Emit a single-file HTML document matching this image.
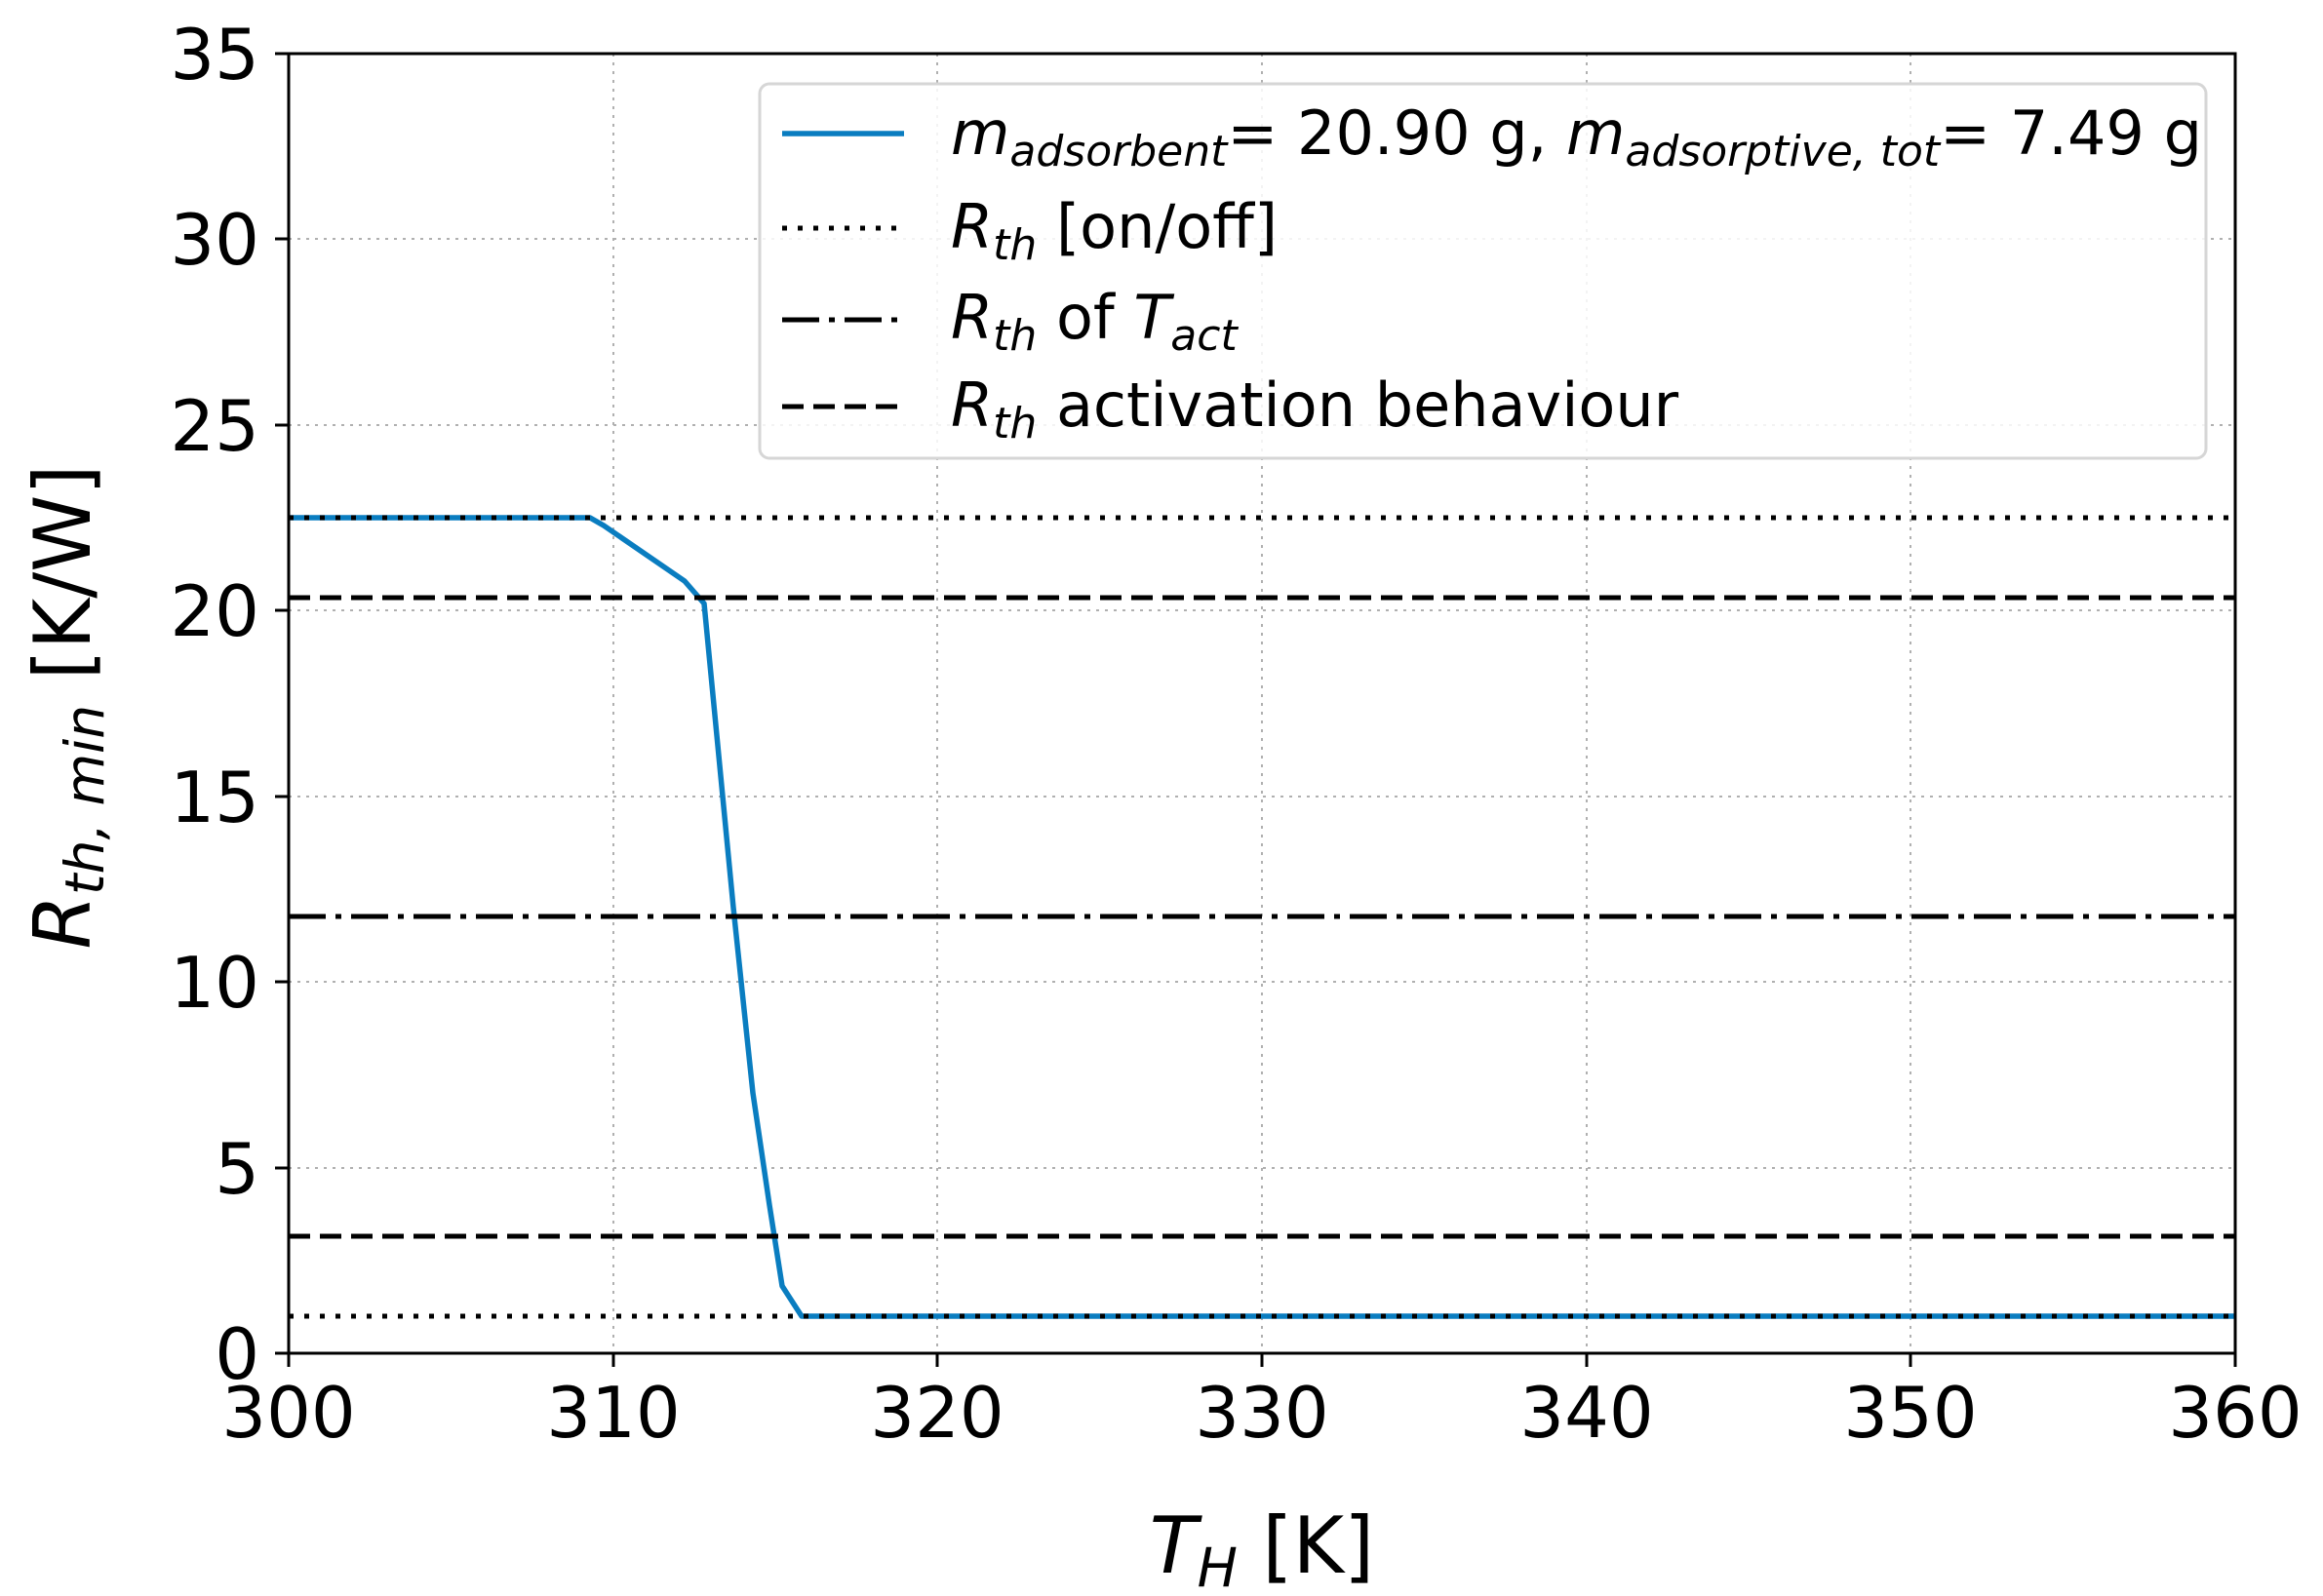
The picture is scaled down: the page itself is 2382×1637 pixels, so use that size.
<!DOCTYPE html>
<html><head><meta charset="utf-8"><style>
html,body{margin:0;padding:0;background:#fff;}
svg{display:block;font-family:"DejaVu Sans","Liberation Sans",sans-serif;}
</style></head><body>
<svg width="2382" height="1637" viewBox="0 0 2382 1637" xmlns="http://www.w3.org/2000/svg">
<rect width="2382" height="1637" fill="#fff"/>
<g stroke="#b0b0b0" stroke-width="2" stroke-dasharray="3,6">
<line x1="629" y1="55" x2="629" y2="1388"/><line x1="961" y1="55" x2="961" y2="1388"/>
<line x1="1294" y1="55" x2="1294" y2="1388"/><line x1="1627" y1="55" x2="1627" y2="1388"/>
<line x1="1959" y1="55" x2="1959" y2="1388"/>
<line x1="296" y1="1198" x2="2292" y2="1198"/><line x1="296" y1="1007" x2="2292" y2="1007"/>
<line x1="296" y1="817" x2="2292" y2="817"/><line x1="296" y1="626" x2="2292" y2="626"/>
<line x1="296" y1="436" x2="2292" y2="436"/><line x1="296" y1="245" x2="2292" y2="245"/>
</g>
<polyline fill="none" stroke="#0a7dc0" stroke-width="5.5" stroke-linejoin="round" points="296,531 605,531 619,539 702,596 722,619 752,931 772,1121 789,1236 802,1319 822,1350 2292,1350"/>
<g fill="none" stroke="#000" stroke-width="5">
<line x1="296" y1="531" x2="2292" y2="531" stroke-dasharray="5,11"/>
<line x1="296" y1="1350" x2="2292" y2="1350" stroke-dasharray="5,11"/>
<line x1="296" y1="613" x2="2292" y2="613" stroke-dasharray="22,10"/>
<line x1="296" y1="1268" x2="2292" y2="1268" stroke-dasharray="22,10"/>
<line x1="296" y1="940" x2="2292" y2="940" stroke-dasharray="38,10,6,10"/>
</g>
<rect x="296" y="55" width="1996" height="1333" fill="none" stroke="#000" stroke-width="3"/>
<g stroke="#000" stroke-width="3">
<line x1="282" y1="1388" x2="296" y2="1388"/><line x1="282" y1="1198" x2="296" y2="1198"/>
<line x1="282" y1="1007" x2="296" y2="1007"/><line x1="282" y1="817" x2="296" y2="817"/>
<line x1="282" y1="626" x2="296" y2="626"/><line x1="282" y1="436" x2="296" y2="436"/>
<line x1="282" y1="245" x2="296" y2="245"/><line x1="282" y1="55" x2="296" y2="55"/>
<line x1="296" y1="1388" x2="296" y2="1402"/><line x1="629" y1="1388" x2="629" y2="1402"/>
<line x1="961" y1="1388" x2="961" y2="1402"/><line x1="1294" y1="1388" x2="1294" y2="1402"/>
<line x1="1627" y1="1388" x2="1627" y2="1402"/><line x1="1959" y1="1388" x2="1959" y2="1402"/>
<line x1="2292" y1="1388" x2="2292" y2="1402"/>
</g>
<g font-size="72" fill="#000" text-anchor="end">
<text x="266" y="1414">0</text><text x="266" y="1224">5</text><text x="266" y="1033">10</text>
<text x="266" y="843">15</text><text x="266" y="652">20</text><text x="266" y="462">25</text>
<text x="266" y="271">30</text><text x="266" y="81">35</text>
</g>
<g font-size="72" fill="#000" text-anchor="middle">
<text x="296" y="1474">300</text><text x="629" y="1474">310</text><text x="961" y="1474">320</text>
<text x="1294" y="1474">330</text><text x="1627" y="1474">340</text><text x="1959" y="1474">350</text>
<text x="2292" y="1474">360</text>
</g>
<text x="1294" y="1613" font-size="80" text-anchor="middle"><tspan font-style="italic">T</tspan><tspan font-style="italic" font-size="55" dy="14">H</tspan><tspan dy="-14"> [K]</tspan></text>
<text transform="translate(92,725) rotate(-90)" font-size="80" text-anchor="middle"><tspan font-style="italic">R</tspan><tspan font-style="italic" font-size="55" dy="14">th, min</tspan><tspan dy="-14"> [K/W]</tspan></text>
<rect x="779" y="86" width="1483" height="384" rx="10" fill="#fff" fill-opacity="0.85" stroke="#d6d6d6" stroke-width="3"/>
<line x1="802" y1="137" x2="927" y2="137" stroke="#0a7dc0" stroke-width="5.5"/>
<line x1="802" y1="234" x2="927" y2="234" stroke="#000" stroke-width="5" stroke-dasharray="5,11"/>
<line x1="802" y1="328" x2="927" y2="328" stroke="#000" stroke-width="5" stroke-dasharray="38,10,6,10"/>
<line x1="802" y1="417" x2="927" y2="417" stroke="#000" stroke-width="5" stroke-dasharray="22,10"/>
<g font-size="62" fill="#000">
<text x="975" y="158"><tspan font-style="italic">m</tspan><tspan font-style="italic" font-size="44" dy="12">adsorbent</tspan><tspan dy="-12">= 20.90 g, </tspan><tspan font-style="italic">m</tspan><tspan font-style="italic" font-size="44" dy="12">adsorptive, tot</tspan><tspan dy="-12">= 7.49 g</tspan></text>
<text x="975" y="254"><tspan font-style="italic">R</tspan><tspan font-style="italic" font-size="44" dy="12">th</tspan><tspan dy="-12"> [on/off]</tspan></text>
<text x="975" y="347"><tspan font-style="italic">R</tspan><tspan font-style="italic" font-size="44" dy="12">th</tspan><tspan dy="-12"> of </tspan><tspan font-style="italic">T</tspan><tspan font-style="italic" font-size="44" dy="12">act</tspan></text>
<text x="975" y="437"><tspan font-style="italic">R</tspan><tspan font-style="italic" font-size="44" dy="12">th</tspan><tspan dy="-12"> activation behaviour</tspan></text>
</g>
</svg>
</body></html>
